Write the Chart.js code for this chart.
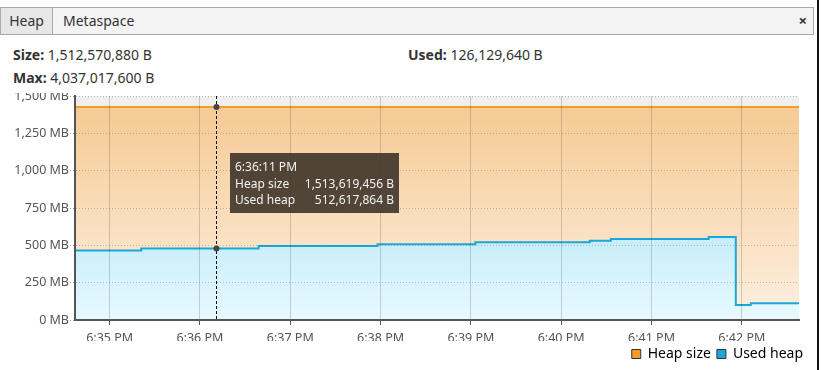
<!DOCTYPE html>
<html>
<head>
<meta charset="utf-8">
<script src="https://cdn.jsdelivr.net/npm/chart.js@4.4.0/dist/chart.umd.min.js"></script>
<style>
  body { margin: 0; width: 822px; height: 370px; background: #fff; position: relative; overflow: hidden;
         font-family: "Noto Sans", sans-serif; color: #333; }
  #tabs { position: absolute; left: 0; top: 7px; width: 812px; height: 26px; border: 1px solid #a9a9a9; background: #f3f3f3; }
  .tab { position: absolute; top: 0; height: 26px; line-height: 26px; font-size: 14px; color: #333; }
  #tabHeap { left: 0; width: 51px; background: #e7e7e7; border-right: 1px solid #a9a9a9; text-align: center; }
  #tabMeta { left: 62px; }
  #close { position: absolute; right: 6px; top: 0; line-height: 25px; font-size: 15px; font-weight: bold; color: #333; }
  #edge { position: absolute; left: 817px; top: 0; width: 2px; height: 370px; background: #111; }
  .info { position: absolute; font-size: 14px; line-height: 19px; white-space: nowrap; }
  #wrap { position: absolute; left: 0; top: 93px; width: 817px; height: 277px; overflow: hidden; }
  #wrap canvas { position: absolute; left: 0; top: -15px; }
  #tip { position: absolute; top: 153px; left: 231px; width: 159px; padding: 6px 5px 4px 5px;
         background: rgba(62, 52, 42, 0.9); color: #f2f2f2; font-size: 12px; line-height: 16.5px; }
  #tip .row { display: flex; justify-content: space-between; }
</style>
</head>
<body>
<div id="tabs">
  <div class="tab" id="tabHeap">Heap</div>
  <div class="tab" id="tabMeta">Metaspace</div>
  <div id="close">×</div>
</div>
<div id="edge"></div>
<div class="info" style="left:13px; top:45px"><b>Size:</b> <span id="sizeVal"></span></div>
<div class="info" style="left:13px; top:68px"><b>Max:</b> <span id="maxVal"></span></div>
<div class="info" style="left:408px; top:45px"><b>Used:</b> <span id="usedVal"></span></div>
<div id="wrap"><canvas id="heap" width="809" height="292"></canvas></div>
<div id="tip"></div>
<script>
// seconds after 6:34:00 PM
var sampleSeconds = [37, 81, 159, 238, 303, 379, 393, 458, 476, 486, 518];
var heapSizeMB = [1426, 1426, 1426, 1426, 1426, 1426, 1426, 1426, 1426, 1426, 1426];
var usedHeapMB = [465, 478, 496, 508, 521, 530, 543, 555, 101, 112, 112];

var tickSeconds = [60, 120, 180, 240, 300, 360, 420, 480];
var tickLabels = ['6:35 PM', '6:36 PM', '6:37 PM', '6:38 PM', '6:39 PM', '6:40 PM', '6:41 PM', '6:42 PM'];

var seriesNames = ['Heap size', 'Used heap'];
var summary = { size: '1,512,570,880 B', max: '4,037,017,600 B', used: '126,129,640 B' };

var hoverSecond = 131;
var tipTitle = '6:36:11 PM';
var tipValues = ['1,513,619,456 B', '512,617,864 B'];

document.getElementById('sizeVal').textContent = summary.size;
document.getElementById('maxVal').textContent = summary.max;
document.getElementById('usedVal').textContent = summary.used;

var tip = document.getElementById('tip');
var html = '<div>' + tipTitle + '</div>';
for (var i = 0; i < seriesNames.length; i++) {
  html += '<div class="row"><span>' + seriesNames[i] + '</span><span>' + tipValues[i] + '</span></div>';
}
tip.innerHTML = html;

function points(values) {
  return sampleSeconds.map(function (t, i) { return { x: t, y: values[i] }; });
}

function valueAt(values, t) {
  var v = values[0];
  for (var i = 0; i < sampleSeconds.length; i++) {
    if (sampleSeconds[i] <= t) v = values[i];
  }
  return v;
}

function heapFill(c) {
  var area = c.chart.chartArea;
  if (!area) return '#f8dcb6';
  var g = c.chart.ctx.createLinearGradient(0, area.top, 0, area.bottom);
  g.addColorStop(0, '#f5c890');
  g.addColorStop(1, '#fdf0e1');
  return g;
}

function usedFill(c) {
  var area = c.chart.chartArea;
  if (!area) return '#d4f2fc';
  var top = c.chart.scales.y.getPixelForValue(560);
  var g = c.chart.ctx.createLinearGradient(0, top, 0, area.bottom);
  g.addColorStop(0, '#c6edfa');
  g.addColorStop(1, '#e8f9ff');
  return g;
}

var background = {
  id: 'background',
  beforeDraw: function (chart) {
    var a = chart.chartArea, ctx = chart.ctx;
    ctx.save();
    ctx.fillStyle = '#efefef';
    ctx.fillRect(a.left, a.top, a.right - a.left, a.bottom - a.top);
    ctx.restore();
  }
};

var crosshair = {
  id: 'crosshair',
  afterDraw: function (chart) {
    var a = chart.chartArea, ctx = chart.ctx;
    var x = chart.scales.x.getPixelForValue(hoverSecond);
    var px = Math.round(x) + 0.5;
    ctx.save();
    ctx.strokeStyle = '#111';
    ctx.lineWidth = 1;
    ctx.setLineDash([3, 2]);
    ctx.beginPath();
    ctx.moveTo(px, a.top);
    ctx.lineTo(px, a.bottom);
    ctx.stroke();
    ctx.setLineDash([]);
    ctx.fillStyle = '#444';
    [heapSizeMB, usedHeapMB].forEach(function (vals) {
      var y = chart.scales.y.getPixelForValue(valueAt(vals, hoverSecond));
      ctx.beginPath();
      ctx.arc(px, y, 3, 0, Math.PI * 2);
      ctx.fill();
    });
    ctx.restore();
    var rect = chart.canvas.getBoundingClientRect();
    tip.style.left = Math.round(rect.left + x + 14) + 'px';
  }
};

var ctx = document.getElementById('heap').getContext('2d');
var chart = new Chart(ctx, {
  type: 'line',
  data: {
    datasets: [{
      label: seriesNames[0],
      data: points(heapSizeMB),
      borderColor: '#f29a2a',
      borderWidth: 2,
      backgroundColor: heapFill,
      fill: 'origin',
      stepped: true,
      pointRadius: 0,
      order: 2
    }, {
      label: seriesNames[1],
      data: points(usedHeapMB),
      borderColor: '#1ba7d8',
      borderWidth: 2,
      backgroundColor: usedFill,
      fill: 'origin',
      stepped: true,
      pointRadius: 0,
      order: 1
    }]
  },
  options: {
    responsive: false,
    animation: false,
    layout: { padding: { top: 18, left: 0, right: 0, bottom: 0 } },
    font: { family: '"Noto Sans", sans-serif' },
    scales: {
      x: {
        type: 'linear',
        min: 37,
        max: 518,
        afterBuildTicks: function (s) {
          s.ticks = tickSeconds.map(function (v) { return { value: v }; });
        },
        afterFit: function (s) { s.height = 21; },
        ticks: {
          padding: 6,
          color: '#555',
          font: { family: '"Noto Sans", sans-serif', size: 12.5 },
          maxRotation: 0,
          callback: function (v) { return tickLabels[tickSeconds.indexOf(v)]; }
        },
        grid: { color: 'rgba(0,0,0,0.16)', lineWidth: 1, tickLength: 5, tickColor: '#555', z: 1 },
        border: { color: '#555', width: 2, z: 1 }
      },
      y: {
        min: 0,
        max: 1500,
        afterFit: function (s) { s.width = 75; },
        ticks: {
          stepSize: 250,
          padding: 1,
          color: '#555',
          font: { family: '"Noto Sans", sans-serif', size: 12.5 },
          callback: function (v) { return v.toLocaleString('en-US') + ' MB'; }
        },
        grid: { color: 'rgba(90,90,90,0.35)', tickLength: 5, tickColor: 'rgba(90,90,90,0.6)', tickBorderDash: [1, 2], z: 1 },
        border: { color: '#555', width: 2, dash: [1, 2], z: 1 }
      },
      yRight: {
        position: 'right',
        afterFit: function (s) { s.width = 10; },
        ticks: { display: false },
        grid: { display: false, drawTicks: false },
        border: { display: false }
      }
    },
    plugins: {
      legend: {
        position: 'bottom',
        align: 'end',
        maxHeight: 29,
        labels: {
          boxWidth: 9,
          boxHeight: 9,
          padding: 6,
          color: '#333',
          font: { family: '"Noto Sans", sans-serif', size: 14 },
          generateLabels: function (chart) {
            return chart.data.datasets.map(function (ds, i) {
              return { text: ds.label, fillStyle: ds.borderColor, strokeStyle: '#333', lineWidth: 1, datasetIndex: i, hidden: false };
            });
          }
        }
      },
      tooltip: { enabled: false }
    }
  },
  plugins: [background, crosshair]
});
</script>
</body>
</html>
